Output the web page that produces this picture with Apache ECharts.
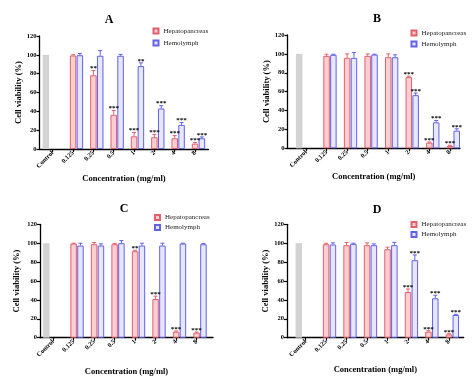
<!DOCTYPE html>
<html><head><meta charset="utf-8">
<script src="https://cdn.jsdelivr.net/npm/echarts@6/dist/echarts.min.js"></script>
<style>html,body{margin:0;padding:0;background:#fff}#c{width:474px;height:389px}</style>
</head><body><div id="c"></div>
<script>
// ---------- DATA ----------
const categories = ['Control', '0.125', '0.25', '0.5', '1', '2', '4', '8'];
const panelNames = ['A', 'B', 'C', 'D'];
const controlValues = [100, 100, 100, 100];

const hepA = [null, 99.3, 78.3, 36.3, 13.5, 12.5, 11.4, 5.7];
const hepAErr = [null, 0.8, 5, 4.5, 4, 3, 2.8, 1.3];
const hemoA = [null, 99.6, 99, 99, 88, 43, 25.6, 11.4];
const hemoAErr = [null, 1.8, 5.5, 1.5, 3.5, 3, 2.5, 1.4];
const hepASig = ['', '', '**', '***', '***', '***', '***', '***'];
const hemoASig = ['', '', '', '', '**', '***', '***', '***'];

const hepB = [null, 97.9, 95.8, 97.9, 96.5, 75.4, 6, 2.5];
const hepBErr = [null, 1.7, 4.2, 2, 3.5, 1, 0.7, 0.7];
const hemoB = [null, 99, 95.8, 99.3, 96.5, 56.3, 27.5, 18.7];
const hemoBErr = [null, 0.6, 5.6, 0.4, 2.5, 2.2, 2, 2];
const hepBSig = ['', '', '', '', '', '***', '***', '***'];
const hemoBSig = ['', '', '', '', '', '***', '***', '***'];

const hepC = [null, 99.6, 98.9, 98.9, 91.5, 41, 6.4, 5.3];
const hepCErr = [null, 0.4, 1.8, 0.7, 1, 3, 0.7, 0.7];
const hemoC = [null, 97.5, 97.5, 100, 97.5, 97.5, 99.6, 98.9];
const hemoCErr = [null, 2.5, 1.8, 2.8, 2.5, 2.5, 0.4, 0.7];
const hepCSig = ['', '', '', '', '**', '***', '***', '***'];
const hemoCSig = ['', '', '', '', '', '', '', ''];

const hepD = [null, 98.9, 97.9, 97.9, 93.6, 48.4, 6.4, 3.5];
const hepDErr = [null, 1, 2.8, 2.5, 2.2, 3.2, 1, 0.7];
const hemoD = [null, 98.6, 99.3, 97.9, 97.9, 82, 41.7, 24];
const hemoDErr = [null, 1.8, 0.7, 1.4, 3, 5.6, 3.2, 0.7];
const hepDSig = ['', '', '', '', '', '***', '***', '***'];
const hemoDSig = ['', '', '', '', '', '***', '***', '***'];

const yTicks = [0, 20, 40, 60, 80, 100, 120];

const panels = [
  {hep: hepA, hepErr: hepAErr, hemo: hemoA, hemoErr: hemoAErr, hepSig: hepASig, hemoSig: hemoASig},
  {hep: hepB, hepErr: hepBErr, hemo: hemoB, hemoErr: hemoBErr, hepSig: hepBSig, hemoSig: hemoBSig},
  {hep: hepC, hepErr: hepCErr, hemo: hemoC, hemoErr: hemoCErr, hepSig: hepCSig, hemoSig: hemoCSig},
  {hep: hepD, hepErr: hepDErr, hemo: hemoD, hemoErr: hemoDErr, hepSig: hepDSig, hemoSig: hemoDSig}
];

// ---------- LAYOUT ----------
const grids = [
  {left: 39.5, top: 36, width: 169, height: 113},
  {left: 287.5, top: 35, width: 172.5, height: 113.3},
  {left: 40, top: 224.3, width: 173, height: 113.4},
  {left: 287, top: 224.3, width: 176.7, height: 113.4}
];
const xRanges = [[-0.65, 7.66], [-0.9, 7.49], [-0.64, 7.8], [-0.91, 7.72]];
const titlePos = [[109, 20], [377, 19], [124, 209], [377, 210]];
const legendPos = [[152.5, 26.5, 3], [410.5, 28.5, 2], [154, 213, 1], [410.5, 220, 1]];
const yNameGap = [15, 13, 19, 12.5];
const xNameGap = [25, 22, 29.5, 28];

const FONT = '"Liberation Serif", "Times New Roman", serif';
const BAR_W = 6.5, GAP = 0.05;
const redFill = '#fbcfd2', redLine = '#e2606c';
const blueFill = '#e6e6fc', blueLine = '#6262e6';
const grayFill = '#d3d3d3';

const idx = categories.map((c, k) => k);

const option = {
  animation: false,
  backgroundColor: '#fff',
  grid: grids.map(g => Object.assign({containLabel: false}, g)),
  xAxis: [], yAxis: [], series: [], legend: [], graphic: []
};

panels.forEach((p, i) => {
  option.xAxis.push({
    type: 'value', gridIndex: i, min: xRanges[i][0], max: xRanges[i][1],
    name: 'Concentration (mg/ml)', nameLocation: 'middle', nameGap: xNameGap[i],
    nameTextStyle: {fontFamily: FONT, fontWeight: 'bold', fontSize: 8.5, color: '#000'},
    splitLine: {show: false},
    axisLine: {onZero: false, lineStyle: {color: '#000', width: 1.3}},
    axisTick: {customValues: idx, length: 3, lineStyle: {color: '#000', width: 1.2}},
    axisLabel: {customValues: idx, formatter: v => categories[Math.round(v)], rotate: 45, margin: 3,
      fontFamily: FONT, fontWeight: 'bold', fontSize: 6.5, color: '#000'}
  });
  option.yAxis.push({
    type: 'value', gridIndex: i, min: 0, max: 120, interval: 20,
    name: 'Cell viability (%)', nameLocation: 'middle', nameGap: yNameGap[i],
    nameTextStyle: {fontFamily: FONT, fontWeight: 'bold', fontSize: 8.5, color: '#000'},
    splitLine: {show: false},
    axisLine: {show: true, onZero: false, lineStyle: {color: '#000', width: 1.3}},
    axisTick: {show: true, length: 3, lineStyle: {color: '#000', width: 1.2}},
    axisLabel: {margin: 3, fontFamily: FONT, fontWeight: 'bold', fontSize: 6.5, color: '#000'}
  });
  const toPts = arr => arr.map((v, k) => v == null ? null : [k, v]).filter(d => d);
  option.series.push({
    type: 'bar', name: 'Control', xAxisIndex: i, yAxisIndex: i, barWidth: BAR_W, barGap: (GAP * 100) + '%',
    data: [[0, controlValues[i]]], itemStyle: {color: grayFill}
  });
  option.series.push({
    type: 'bar', name: 'Hepatopancreas', xAxisIndex: i, yAxisIndex: i, barWidth: BAR_W, barGap: (GAP * 100) + '%',
    data: toPts(p.hep), itemStyle: {color: redFill, borderColor: redLine, borderWidth: 1}
  });
  option.series.push({
    type: 'bar', name: 'Hemolymph', xAxisIndex: i, yAxisIndex: i, barWidth: BAR_W, barGap: (GAP * 100) + '%',
    data: toPts(p.hemo), itemStyle: {color: blueFill, borderColor: blueLine, borderWidth: 1}
  });
  const errSeries = (vals, errs, sig, color, dx) => ({
    type: 'custom', xAxisIndex: i, yAxisIndex: i, clip: false, silent: true, z: 5,
    data: vals.map((v, k) => v == null ? null : [k, v, errs[k]]).filter(d => d),
    renderItem: (params, api) => {
      const k = api.value(0);
      const b = api.coord([k, api.value(1)]);
      const t = api.coord([k, api.value(1) + api.value(2)]);
      const cx = b[0] + dx;
      const ch = [
        {type: 'line', shape: {x1: cx, y1: b[1], x2: cx, y2: t[1]}, style: {stroke: color, lineWidth: 1}},
        {type: 'line', shape: {x1: cx - 2, y1: t[1], x2: cx + 2, y2: t[1]}, style: {stroke: color, lineWidth: 1}}
      ];
      if (sig[k]) ch.push({type: 'text', x: cx, y: t[1] + 1.5,
        style: {text: sig[k], align: 'center', verticalAlign: 'bottom', font: 'bold 7px ' + FONT, fill: '#000'}});
      return {type: 'group', children: ch};
    }
  });
  option.series.push(errSeries(p.hep, p.hepErr, p.hepSig, redLine, 0));
  option.series.push(errSeries(p.hemo, p.hemoErr, p.hemoSig, blueLine, BAR_W * (1 + GAP)));
  option.legend.push({
    data: ['Hepatopancreas', 'Hemolymph'], orient: 'vertical', left: legendPos[i][0], top: legendPos[i][1],
    itemGap: legendPos[i][2], itemWidth: 5, itemHeight: 5, icon: 'rect', padding: 0, selectedMode: false,
    textStyle: {fontFamily: FONT, fontSize: 7, color: '#222', lineHeight: 9}
  });
  option.graphic.push({
    type: 'text', x: titlePos[i][0], y: titlePos[i][1],
    style: {text: panelNames[i], align: 'center', verticalAlign: 'middle', font: 'bold 12px ' + FONT, fill: '#000'}
  });
});

const chart = echarts.init(document.getElementById('c'), null, {renderer: 'canvas'});
chart.setOption(option);
</script>
</body></html>
